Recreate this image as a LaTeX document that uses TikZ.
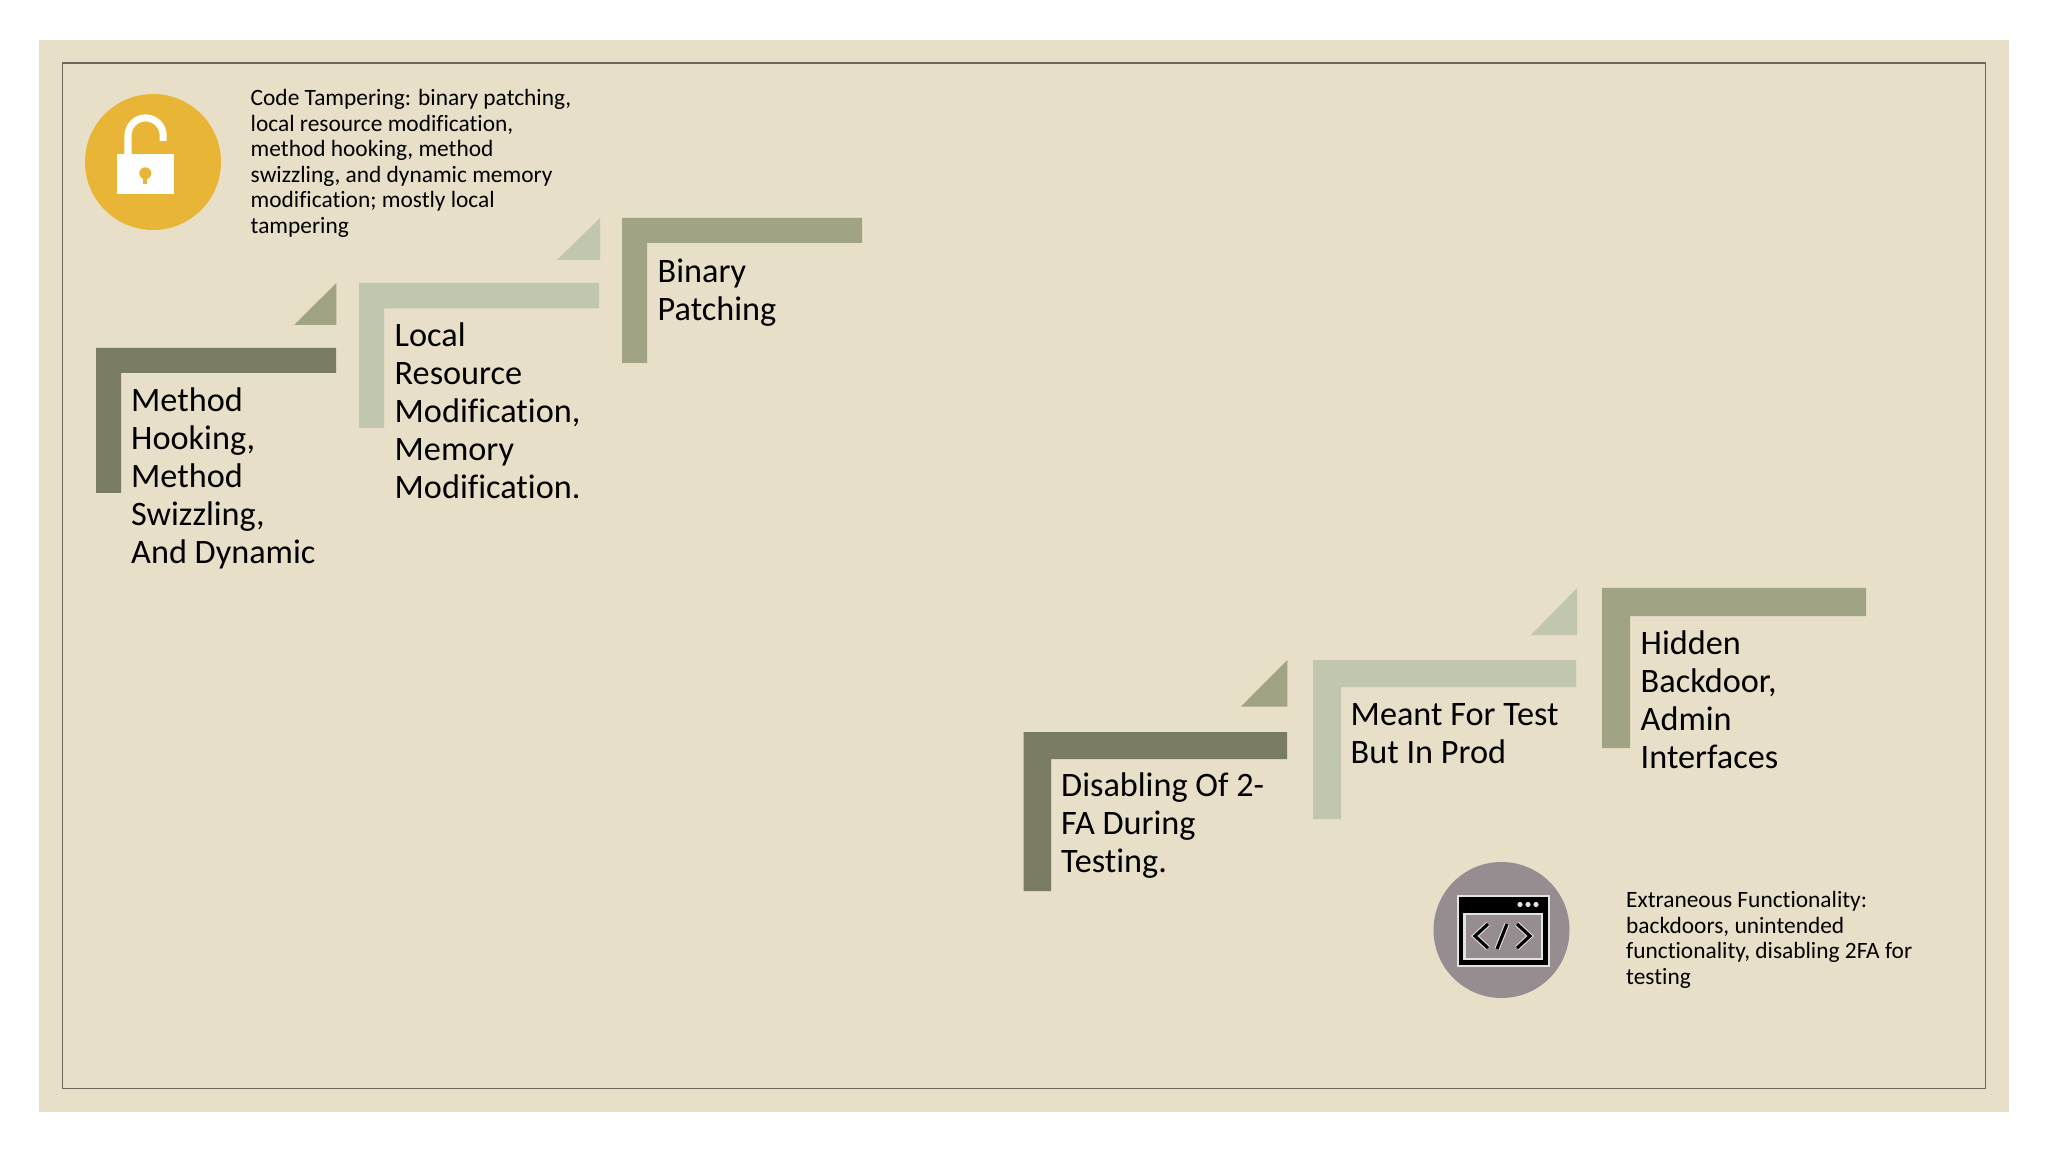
\documentclass[tikz,border=0pt]{standalone}
\usepackage{fontspec}
\setmainfont[Ligatures=NoCommon]{Carlito}
\definecolor{pagetan}{HTML}{E7DFC7}
\definecolor{framegray}{HTML}{6E675A}
\definecolor{stairdark}{HTML}{797C60}
\definecolor{stairmid}{HTML}{A1A385}
\definecolor{stairpale}{HTML}{C1C6AF}
\definecolor{lockgold}{HTML}{E9B536}
\definecolor{codegray}{HTML}{958D8F}
\tikzset{
	steptext/.style={anchor=north west,inner sep=0pt,align=left,font=\fontsize{9.74}{10.8}\selectfont},
	notetext/.style={anchor=north west,inner sep=0pt,align=left,font=\fontsize{6.65}{7.25}\selectfont},
}

\begin{document}
\begin{tikzpicture}[x=0.01cm,y=-0.01cm]
	\useasboundingbox (0,0) rectangle (2048,1152);
	
	%background
	\fill[white] (0,0) rectangle (2048,1152);
	\fill[pagetan] (39,40) rectangle (2009,1112);
	\draw[framegray,line width=0.4pt] (62.5,63) rectangle (1985.5,1088.5);
	
	%top stairs
	\fill[stairdark] (96,348)--(336,348)--(336,373)--(121,373)--(121,493)--(96,493)--cycle;
	\fill[stairmid] (336.4,283)--(336.4,325)--(294,325)--cycle;
	\fill[stairpale] (359,283)--(599,283)--(599,308.5)--(384,308.5)--(384,428)--(359,428)--cycle;
	\fill[stairpale] (600,218)--(600,260)--(557,260)--cycle;
	\fill[stairmid] (622,218)--(862,218)--(862,243)--(647,243)--(647,363)--(622,363)--cycle;
	
	%bottom stairs
	\fill[stairdark] (1023.5,732)--(1287,732)--(1287,759)--(1051,759)--(1051,891)--(1023.5,891)--cycle;
	\fill[stairmid] (1287.4,660)--(1287.4,706.5)--(1241,706.5)--cycle;
	\fill[stairpale] (1313,660)--(1576,660)--(1576,687)--(1341,687)--(1341,819)--(1313,819)--cycle;
	\fill[stairpale] (1577,588)--(1577,635)--(1531,635)--cycle;
	\fill[stairmid] (1602,588)--(1866,588)--(1866,616)--(1630,616)--(1630,748)--(1602,748)--cycle;
	
	%lock icon
	\fill[lockgold] (153,162) circle (68);
	\draw[white,line width=2pt] (128,156)--(128,135.5) arc (180:360:17.6 and 17.6)--(163.2,141);
	\fill[white] (116.7,154) rectangle (174,194);
	\fill[lockgold] (145.3,173.3) circle (6);
	\fill[lockgold] (143.3,174) rectangle (147.3,184);
	
	%code icon
	\fill[codegray] (1501.5,930) circle (68);
	\filldraw[draw=white!75!codegray,fill=black,line width=0.6pt] (1458,896) rectangle (1549,966);
	\filldraw[draw=white!75!codegray,fill=codegray,line width=0.6pt] (1464.5,914) rectangle (1542,959);
	\foreach \dotx in {1520,1528,1536}
		\fill[white!75!codegray] (\dotx,904.5) circle (2.6);
	\draw[white!75!codegray,line width=1.5pt] (1488,924)--(1475,936)--(1488,948);
	\draw[white!75!codegray,line width=1.5pt] (1507,924)--(1497,949);
	\draw[white!75!codegray,line width=1.5pt] (1517,924)--(1530,936)--(1517,948);
	\draw[black,line width=0.9pt] (1488,924)--(1475,936)--(1488,948);
	\draw[black,line width=0.9pt] (1507,924)--(1497,949);
	\draw[black,line width=0.9pt] (1517,924)--(1530,936)--(1517,948);
	
	%notes
	\node[notetext] (tampernote) at (250,89) {Code Tampering: binary patching,\\local resource modification,\\method hooking, method\\swizzling, and dynamic memory\\modification; mostly local\\tampering};
	\node[notetext] (extranote) at (1625.5,891) {Extraneous Functionality:\\backdoors, unintended\\functionality, disabling 2FA for\\testing};
	
	%top labels
	\node[steptext] (hooktext) at (130.5,387) {Method\\Hooking,\\Method\\Swizzling,\\And Dynamic};
	\node[steptext] (localtext) at (394,322) {Local\\Resource\\Modification,\\Memory\\Modification.};
	\node[steptext] (binarytext) at (657,258) {Binary\\Patching};
	
	%bottom labels
	\node[steptext] (twofatext) at (1060.5,772.5) {Disabling Of 2-\\FA During\\Testing.};
	\node[steptext] (prodtext) at (1350,703) {Meant For Test\\But In Prod};
	\node[steptext] (backdoortext) at (1640,630) {Hidden\\Backdoor,\\Admin\\Interfaces};
\end{tikzpicture}
\end{document}
